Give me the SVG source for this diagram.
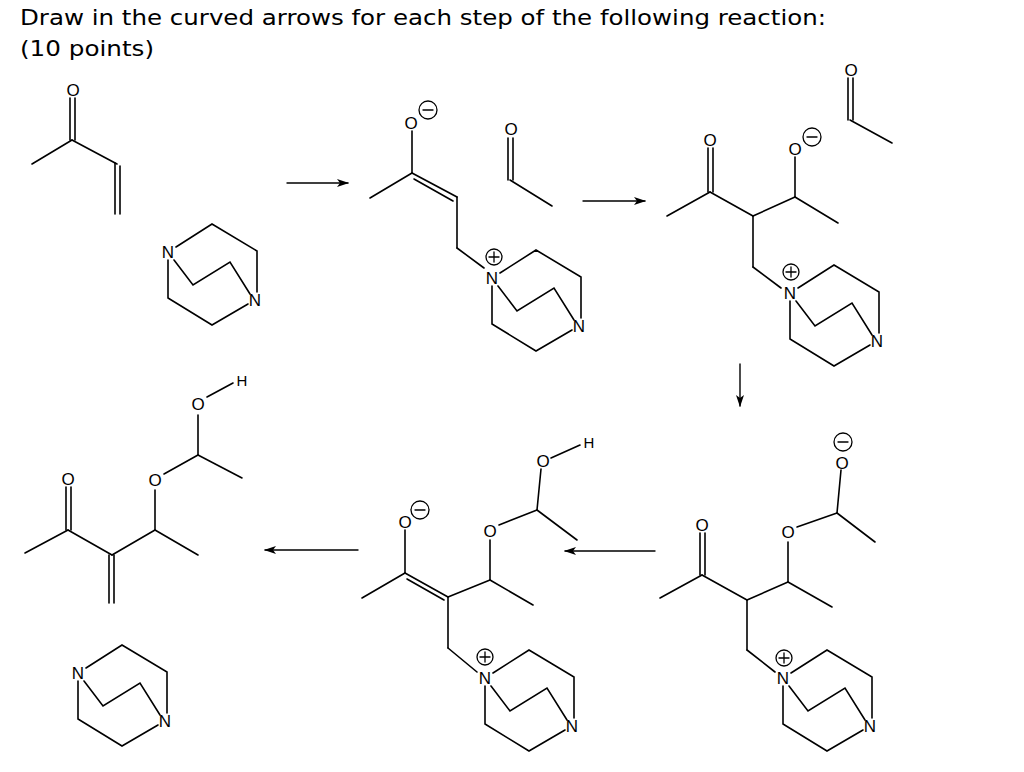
<svg xmlns="http://www.w3.org/2000/svg" width="1024" height="772" viewBox="0 0 1024 772">
<style>
line,polyline,path{stroke:#000;stroke-width:1.6;fill:none;stroke-linecap:round}
.c{fill:none;stroke:#000;stroke-width:1.3}
text{font-family:"Liberation Sans",Arial,sans-serif;fill:#000}
.a{font-size:17px;text-anchor:middle}
.t{font-size:21px;font-family:"DejaVu Sans",Verdana,sans-serif}
.ar{stroke-width:1.4}
</style>
<defs>
<marker id="ah" markerWidth="12" markerHeight="8" refX="11" refY="4" orient="auto" markerUnits="userSpaceOnUse"><path d="M0,0L12,4L0,8L3,4Z" style="fill:#000;stroke:none"/></marker>
<g id="dabco">
<polyline points="8,-5 44,-28 89,-1 89,40"/>
<polyline points="0,8 0,46 44,73 80,52"/>
<polyline points="6,8 25,33 62,10 82,42"/>
<text class="a" x="0" y="6">N</text>
<text class="a" x="87" y="54">N</text>
</g>
<g id="plus"><circle class="c" r="8"/><line x1="-5" y1="0" x2="5" y2="0" style="stroke-width:1.3"/><line x1="0" y1="-5" x2="0" y2="5" style="stroke-width:1.3"/></g>
<g id="minus"><circle class="c" r="9"/><line x1="-5" y1="0" x2="5" y2="0" style="stroke-width:1.3"/></g>
</defs>
<text class="t" x="20" y="25" textLength="806" lengthAdjust="spacingAndGlyphs">Draw in the curved arrows for each step of the following reaction:</text>
<text class="t" x="20" y="56" textLength="134" lengthAdjust="spacingAndGlyphs">(10 points)</text>

<g id="mol1">
<line x1="32" y1="164" x2="72" y2="140"/><line x1="72" y1="140" x2="117" y2="164"/>
<line x1="70" y1="140" x2="70" y2="98"/><line x1="75" y1="140" x2="75" y2="98"/>
<text class="a" x="73" y="96">O</text>
<line x1="115" y1="163" x2="115" y2="214"/><line x1="120" y1="166" x2="120" y2="214"/>
</g>
<g id="dabco1"><use href="#dabco" x="168" y="252"/></g>

<g id="mol2">
<line x1="370" y1="198" x2="412" y2="173"/>
<line x1="412" y1="173" x2="457" y2="197"/><line x1="414" y1="179" x2="453" y2="201"/>
<line x1="412" y1="173" x2="412" y2="131"/>
<text class="a" x="411" y="129">O</text><use href="#minus" x="428" y="110"/>
<line x1="457" y1="197" x2="457" y2="248"/><line x1="457" y1="248" x2="484" y2="268"/>
<use href="#dabco" x="492" y="278"/><use href="#plus" x="494" y="257"/>
<line x1="508" y1="138" x2="508" y2="180"/><line x1="513" y1="138" x2="513" y2="180"/>
<line x1="510" y1="180" x2="552" y2="206"/>
<text class="a" x="511" y="135">O</text>
</g>

<g id="mol3">
<line x1="667" y1="216" x2="710" y2="192"/><line x1="710" y1="192" x2="753" y2="216"/>
<line x1="708" y1="192" x2="708" y2="148"/><line x1="713" y1="192" x2="713" y2="148"/>
<text class="a" x="710" y="146">O</text>
<line x1="753" y1="216" x2="795" y2="197"/><line x1="795" y1="197" x2="838" y2="223"/>
<line x1="795" y1="197" x2="795" y2="157"/>
<text class="a" x="795" y="155">O</text><use href="#minus" x="812" y="137"/>
<line x1="753" y1="216" x2="753" y2="267"/><line x1="753" y1="267" x2="781" y2="288"/>
<use href="#dabco" x="790" y="293"/><use href="#plus" x="791" y="272"/>
<line x1="848" y1="78" x2="848" y2="120"/><line x1="853" y1="78" x2="853" y2="120"/>
<line x1="850" y1="120" x2="892" y2="143"/>
<text class="a" x="851" y="76">O</text>
</g>

<g id="mol4">
<line x1="660" y1="598" x2="702" y2="575"/><line x1="702" y1="575" x2="747" y2="600"/>
<line x1="700" y1="575" x2="700" y2="533"/><line x1="705" y1="575" x2="705" y2="533"/>
<text class="a" x="702" y="531">O</text>
<line x1="747" y1="600" x2="788" y2="582"/><line x1="788" y1="582" x2="832" y2="607"/>
<line x1="788" y1="582" x2="788" y2="542"/>
<text class="a" x="788" y="538">O</text>
<line x1="797" y1="527" x2="837" y2="513"/><line x1="837" y1="513" x2="875" y2="542"/>
<line x1="837" y1="513" x2="841" y2="470"/>
<text class="a" x="842" y="469">O</text><use href="#minus" x="843" y="442"/>
<line x1="747" y1="600" x2="747" y2="650"/><line x1="747" y1="650" x2="775" y2="672"/>
<use href="#dabco" x="783" y="678"/><use href="#plus" x="784" y="658"/>
</g>

<g id="mol5">
<line x1="362" y1="598" x2="405" y2="573"/>
<line x1="405" y1="573" x2="448" y2="597"/><line x1="407" y1="579" x2="444" y2="600"/>
<line x1="405" y1="573" x2="405" y2="530"/>
<text class="a" x="405" y="528">O</text><use href="#minus" x="420" y="510"/>
<line x1="448" y1="597" x2="490" y2="580"/><line x1="490" y1="580" x2="533" y2="605"/>
<line x1="490" y1="580" x2="490" y2="540"/>
<text class="a" x="490" y="537">O</text>
<line x1="499" y1="525" x2="537" y2="510"/><line x1="537" y1="510" x2="577" y2="540"/>
<line x1="537" y1="510" x2="541" y2="469"/>
<text class="a" x="543" y="467">O</text>
<line x1="551" y1="458" x2="580" y2="445"/>
<text class="a" x="589" y="448" style="font-size:15px">H</text>
<line x1="448" y1="597" x2="448" y2="648"/><line x1="448" y1="648" x2="477" y2="672"/>
<use href="#dabco" x="485" y="678"/><use href="#plus" x="485" y="657"/>
</g>

<g id="mol6">
<line x1="25" y1="553" x2="68" y2="530"/><line x1="68" y1="530" x2="112" y2="555"/>
<line x1="66" y1="530" x2="66" y2="487"/><line x1="71" y1="530" x2="71" y2="487"/>
<text class="a" x="68" y="485">O</text>
<line x1="109" y1="555" x2="109" y2="603"/><line x1="114" y1="555" x2="114" y2="603"/>
<line x1="112" y1="555" x2="155" y2="530"/><line x1="155" y1="530" x2="198" y2="555"/>
<line x1="155" y1="530" x2="155" y2="490"/>
<text class="a" x="155" y="486">O</text>
<line x1="164" y1="474" x2="198" y2="455"/><line x1="198" y1="455" x2="242" y2="478"/>
<line x1="198" y1="455" x2="198" y2="415"/>
<text class="a" x="198" y="410">O</text>
<line x1="207" y1="397" x2="233" y2="383"/>
<text class="a" x="242" y="386" style="font-size:15px">H</text>
</g>
<g id="dabco6"><use href="#dabco" x="78" y="673"/></g>

<g id="connectors">
<line class="ar" x1="287" y1="183" x2="348" y2="183" marker-end="url(#ah)"/>
<line class="ar" x1="583" y1="201" x2="645" y2="201" marker-end="url(#ah)"/>
<line class="ar" x1="740" y1="364" x2="740" y2="406" marker-end="url(#ah)"/>
<line class="ar" x1="655" y1="551" x2="565" y2="551" marker-end="url(#ah)"/>
<line class="ar" x1="358" y1="550" x2="265" y2="550" marker-end="url(#ah)"/>
</g>
</svg>
